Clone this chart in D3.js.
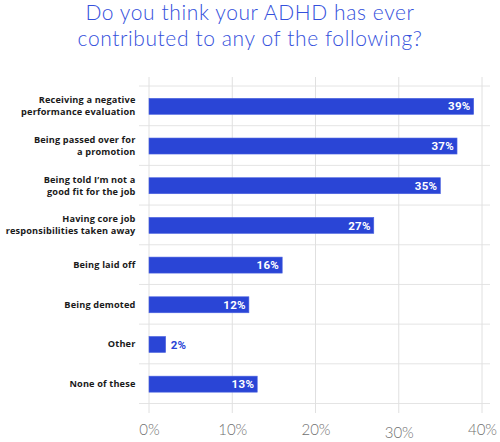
<!DOCTYPE html>
<html>
<head>
<meta charset="utf-8">
<script src="https://cdn.jsdelivr.net/npm/d3@7"></script>
<style>
  html, body { margin: 0; padding: 0; background: #fff; }
  svg { display: block; }
</style>
</head>
<body>
<svg id="chart" width="500" height="442"></svg>
<script>
const titleLines = ["Do you think your ADHD has ever", "contributed to any of the following?"];
const categories = [
  ["Receiving a negative", "performance evaluation"],
  ["Being passed over for", "a promotion"],
  ["Being told I\u2019m not a", "good fit for the job"],
  ["Having core job", "responsibilities taken away"],
  ["Being laid off"],
  ["Being demoted"],
  ["Other"],
  ["None of these"]
];
const values = [39, 37, 35, 27, 16, 12, 2, 13];
const tickValues = [0, 10, 20, 30, 40];

const blue = "#2a45d6";
const svg = d3.select("#chart");

// Title
svg.append("text")
  .attr("x", 250).attr("y", 20)
  .attr("text-anchor", "middle")
  .style("font-family", "Lato, sans-serif")
  .style("font-weight", 300)
  .style("font-size", "21px")
  .style("letter-spacing", "0.6px")
  .attr("fill", "#3450dc")
  .selectAll("tspan").data(titleLines).join("tspan")
  .attr("x", 250).attr("dy", (d, i) => i === 0 ? 0 : 25.5)
  .text(d => d);

const x = d3.scaleLinear().domain([0, 40]).range([149, 482]);
const idx = d3.range(categories.length);
const y = d3.scaleBand().domain(idx).range([86, 403.5]).padding(0);
const barH = 16;

// Horizontal gridlines
const hLines = d3.range(categories.length + 1).map(i => 86 + i * y.step());
svg.append("g").selectAll("line").data(hLines).join("line")
  .attr("x1", 139).attr("x2", 490)
  .attr("y1", d => d).attr("y2", d => d)
  .attr("stroke", "#e4e4e4").attr("stroke-width", 1);

// Vertical gridlines
svg.append("g").selectAll("line").data(tickValues).join("line")
  .attr("x1", d => x(d)).attr("x2", d => x(d))
  .attr("y1", 77).attr("y2", 413)
  .attr("stroke", "#e0e0e0").attr("stroke-width", 1);

// Axis labels
const axis = d3.axisBottom(x).tickValues(tickValues).tickFormat(d => d + "%").tickSize(0).tickPadding(0);
const gAxis = svg.append("g").attr("transform", "translate(0,424)").call(axis);
gAxis.select(".domain").remove();
gAxis.selectAll("text")
  .attr("dy", (d) => d === 30 ? "0.95em" : "0.72em")
  .style("font-family", "Lato, sans-serif")
  .style("font-weight", 300)
  .style("font-size", "15px")
  .attr("fill", "#707070");

// Bars
svg.append("g").selectAll("rect").data(idx).join("rect")
  .attr("x", x(0))
  .attr("y", i => y(i) + y.bandwidth() / 2 - barH / 2 + 0.5)
  .attr("width", i => x(values[i]) - x(0))
  .attr("height", barH)
  .attr("fill", blue)
  .attr("stroke", "#4c63e0").attr("stroke-width", 0.6);

// Value labels
svg.append("g").selectAll("text").data(idx).join("text")
  .attr("x", i => values[i] < 5 ? x(values[i]) + 5 : x(values[i]) - 3)
  .attr("y", i => y(i) + y.bandwidth() / 2 + 4.6)
  .attr("text-anchor", i => values[i] < 5 ? "start" : "end")
  .style("font-family", "Roboto, sans-serif")
  .style("font-weight", 700)
  .style("font-size", "11.5px")
  .style("letter-spacing", "0.3px")
  .attr("fill", i => values[i] < 5 ? blue : "#ffffff")
  .text(i => values[i] + "%");

// Category labels
const lab = svg.append("g").selectAll("text").data(idx).join("text")
  .attr("text-anchor", "end")
  .style("font-family", "'Open Sans', sans-serif")
  .style("font-weight", 700)
  .style("font-size", "9.2px")
  .style("letter-spacing", "0.15px")
  .attr("fill", "#1a1a1a");
lab.each(function(i) {
  const lines = categories[i];
  const cy = y(i) + y.bandwidth() / 2;
  const lh = 11.8;
  const startY = cy - (lines.length - 1) * lh / 2 + 3.4;
  d3.select(this).selectAll("tspan").data(lines).join("tspan")
    .attr("x", 135.5)
    .attr("y", (d, k) => startY + k * lh)
    .text(d => d);
});
</script>
</body>
</html>
